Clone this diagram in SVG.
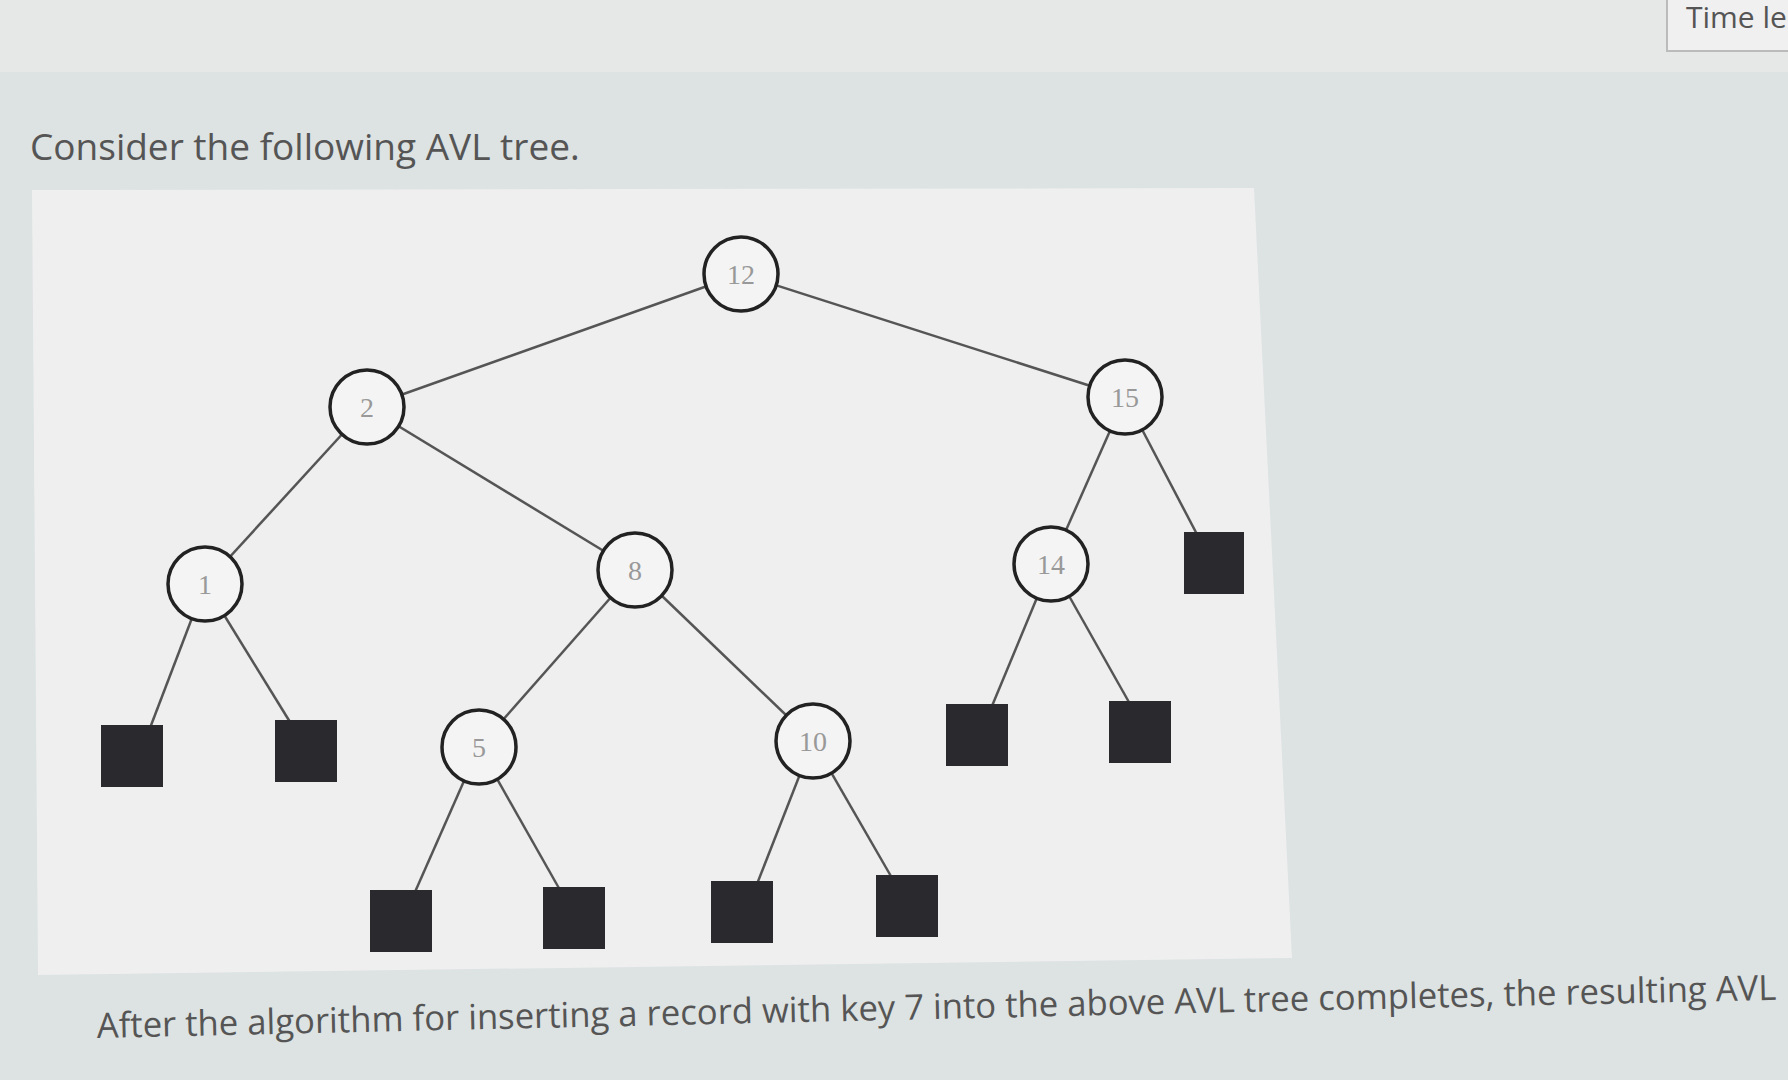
<svg xmlns="http://www.w3.org/2000/svg" width="1788" height="1080" viewBox="0 0 1788 1080">
<style>
.n circle{fill:#f4f4f4;stroke:#222;stroke-width:3.5}
.n text{font-family:"Liberation Serif",serif;font-size:28px;fill:#999;text-anchor:middle;dominant-baseline:central}
.leaf{fill:#2a2a2e}
#edges line{stroke:#555;stroke-width:2.5}
.t{font-family:"Open Sans","Liberation Sans",sans-serif;font-size:37px;fill:#555}
</style>
<rect width="1788" height="1080" fill="#dde2e2"/>
<rect width="1788" height="72" fill="#e6e7e7"/>
<rect x="1667" y="-2" width="130" height="53" fill="#f0f0f0" stroke="#bbb" stroke-width="2"/>
<text class="t" x="1686" y="28" style="font-size:30px">Time le</text>
<text class="t" x="30" y="160">Consider the following AVL tree.</text>
<polygon points="32,190 1254,188 1292,958 38,975" fill="#efefef"/>
<text class="t" x="97" y="1038" style="font-size:35px" textLength="1680" lengthAdjust="spacingAndGlyphs" transform="rotate(-1.3 97 1038)">After the algorithm for inserting a record with key 7 into the above AVL tree completes, the resulting AVL</text>
<g id="edges">
<line x1="741" y1="274" x2="367" y2="407"/>
<line x1="741" y1="274" x2="1125" y2="397"/>
<line x1="367" y1="407" x2="205" y2="584"/>
<line x1="367" y1="407" x2="635" y2="570"/>
<line x1="1125" y1="397" x2="1051" y2="564"/>
<line x1="1125" y1="397" x2="1200" y2="540"/>
<line x1="205" y1="584" x2="150" y2="728"/>
<line x1="205" y1="584" x2="290" y2="722"/>
<line x1="635" y1="570" x2="479" y2="747"/>
<line x1="635" y1="570" x2="813" y2="741"/>
<line x1="1051" y1="564" x2="992" y2="706"/>
<line x1="1051" y1="564" x2="1130" y2="704"/>
<line x1="479" y1="747" x2="415" y2="892"/>
<line x1="479" y1="747" x2="560" y2="890"/>
<line x1="813" y1="741" x2="757" y2="884"/>
<line x1="813" y1="741" x2="892" y2="878"/>
</g>
<g id="n12" class="n"><circle cx="741" cy="274" r="37"/><text x="741" y="274">12</text></g>
<g id="n2" class="n"><circle cx="367" cy="407" r="37"/><text x="367" y="407">2</text></g>
<g id="n15" class="n"><circle cx="1125" cy="397" r="37"/><text x="1125" y="397">15</text></g>
<g id="n1" class="n"><circle cx="205" cy="584" r="37"/><text x="205" y="584">1</text></g>
<g id="n8" class="n"><circle cx="635" cy="570" r="37"/><text x="635" y="570">8</text></g>
<g id="n14" class="n"><circle cx="1051" cy="564" r="37"/><text x="1051" y="564">14</text></g>
<g id="n5" class="n"><circle cx="479" cy="747" r="37"/><text x="479" y="747">5</text></g>
<g id="n10" class="n"><circle cx="813" cy="741" r="37"/><text x="813" y="741">10</text></g>
<g id="leaves">
<rect class="leaf" x="101" y="725" width="62" height="62"/>
<rect class="leaf" x="275" y="720" width="62" height="62"/>
<rect class="leaf" x="370" y="890" width="62" height="62"/>
<rect class="leaf" x="543" y="887" width="62" height="62"/>
<rect class="leaf" x="711" y="881" width="62" height="62"/>
<rect class="leaf" x="876" y="875" width="62" height="62"/>
<rect class="leaf" x="946" y="704" width="62" height="62"/>
<rect class="leaf" x="1109" y="701" width="62" height="62"/>
<rect class="leaf" x="1184" y="532" width="60" height="62"/>
</g>
</svg>
